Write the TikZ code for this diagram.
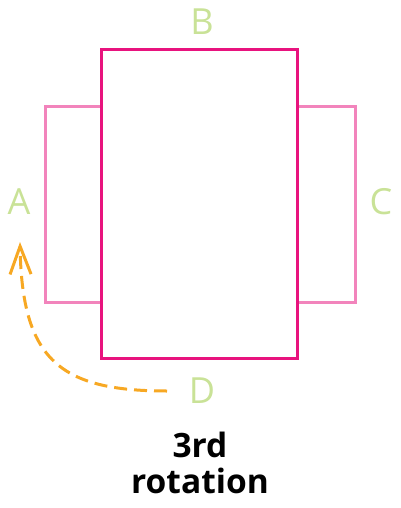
\documentclass[tikz,border=0pt]{standalone}
\usepackage{fontspec}
\setmainfont{Open Sans}
\usetikzlibrary{arrows.meta}
\definecolor{mainpink}{HTML}{E8137E}
\definecolor{lightpink}{HTML}{F284BC}
\definecolor{labelgreen}{HTML}{C9E297}
\definecolor{arroworange}{HTML}{F7A823}
\tikzset{
  mainbox/.style={draw=mainpink, line width=3pt},
  sidebox/.style={draw=lightpink, line width=3pt},
  lbl/.style={text=labelgreen, font=\fontsize{36}{40}\selectfont, anchor=base, inner sep=0pt},
  rotarrow/.style={draw=arroworange, line width=3pt, dash pattern=on 13pt off 7pt, -{Straight Barb[length=28pt,width=21pt]}},
  caption/.style={font=\bfseries\fontsize{33.5}{36}\selectfont, align=center, anchor=base, inner sep=0pt}
}
\begin{document}
\begin{tikzpicture}[x=1pt,y=-1pt]
\useasboundingbox (0,0) rectangle (400,508);
\draw[sidebox] (45,106.5) rectangle (101.5,302);
\draw[sidebox] (297.5,106.5) rectangle (355,302);
\draw[mainbox] (101.5,49.5) rectangle (297.5,358.5);
\node[lbl] (B) at (202,35) {B};
\node[lbl] (A) at (19,214) {A};
\node[lbl] (C) at (381,214) {C};
\node[lbl] (D) at (202,403) {D};
\coordinate (arrowstart) at (167,391);
\coordinate (arrowend) at (20,242);
\draw[rotarrow] (arrowstart) .. controls (60,391) and (22,360) .. (arrowend);
\node[caption] (cap1) at (200,457) {3rd};
\node[caption] (cap2) at (200,493) {rotation};
\end{tikzpicture}
\end{document}
